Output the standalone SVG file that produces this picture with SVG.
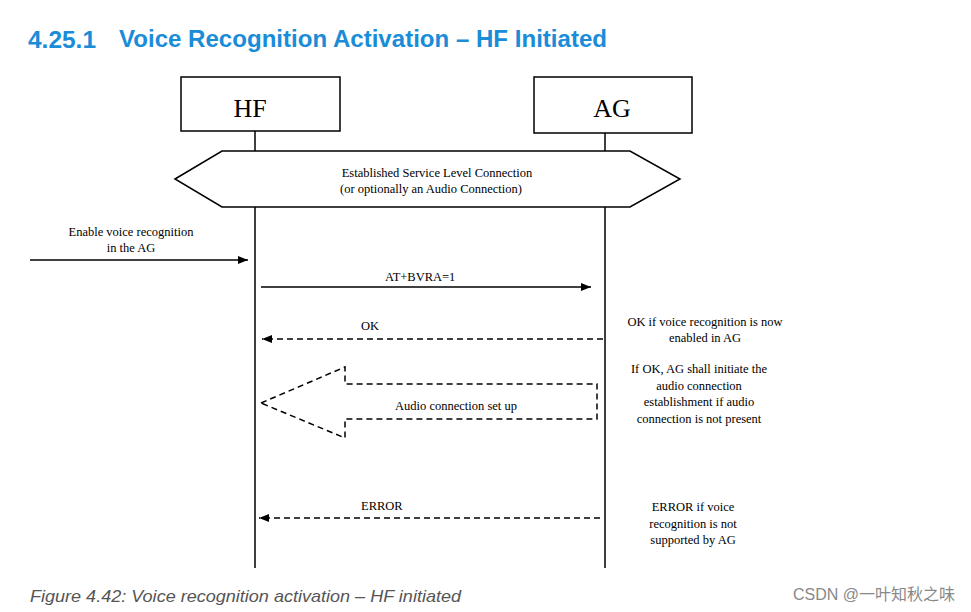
<svg xmlns="http://www.w3.org/2000/svg" width="971" height="612" viewBox="0 0 971 612">
<style>
.t{font-family:"Liberation Serif",serif;font-size:12.5px;fill:#000}
.b{font-family:"Liberation Serif",serif;font-size:26px;fill:#000}
.l{stroke:#000;stroke-width:1.5;fill:none}
.d{stroke:#000;stroke-width:1.5;fill:none;stroke-dasharray:6,4}
.h{font-family:"Liberation Sans",sans-serif;font-weight:bold;font-size:23px;fill:#1a8cd8}
</style>
<defs>
<marker id="a" markerWidth="10" markerHeight="8" refX="10" refY="4" orient="auto" markerUnits="userSpaceOnUse"><path d="M0,0L10,4L0,8z" fill="#000"/></marker>
</defs>
<rect width="971" height="612" fill="#fff"/>
<text x="28" y="48" class="h" textLength="68" lengthAdjust="spacingAndGlyphs">4.25.1</text>
<text x="119" y="47" class="h" textLength="488" lengthAdjust="spacingAndGlyphs">Voice Recognition Activation – HF Initiated</text>
<g id="HF"><rect x="181" y="77" width="159" height="54" class="l"/><text x="250" y="117" class="b" text-anchor="middle">HF</text><line x1="255" y1="131" x2="255" y2="568" class="l"/></g>
<g id="AG"><rect x="534" y="77" width="158" height="56" class="l"/><text x="612" y="117" class="b" text-anchor="middle">AG</text><line x1="605" y1="133" x2="605" y2="568" class="l"/></g>
<g id="slc"><polygon points="175,179 222,151 630,151 680,179 630,207 222,207" fill="#fff" stroke="#000" stroke-width="1.5"/><text x="437" y="177" class="t" text-anchor="middle">Established Service Level Connection</text><text x="431" y="193" class="t" text-anchor="middle">(or optionally an Audio Connection)</text></g>
<g id="connectors">
<line x1="30" y1="260" x2="248" y2="260" class="l" marker-end="url(#a)"/>
<line x1="261" y1="287" x2="591" y2="287" class="l" marker-end="url(#a)"/>
<line x1="603" y1="339" x2="262" y2="339" class="d" marker-end="url(#a)"/>
<line x1="600" y1="518" x2="259" y2="518" class="d" marker-end="url(#a)"/>
<polygon points="261,403 345,367 345,384 597,384 597,419 345,419 345,438" class="d"/>
</g>
<g id="labels">
<text x="131" y="236" class="t" text-anchor="middle">Enable voice recognition</text><text x="131" y="252" class="t" text-anchor="middle">in the AG</text>
<text x="385" y="281" class="t">AT+BVRA=1</text>
<text x="361" y="330" class="t">OK</text>
<text x="456" y="410" class="t" text-anchor="middle">Audio connection set up</text>
<text x="361" y="510" class="t">ERROR</text>
<text x="705" y="326" class="t" text-anchor="middle">OK if voice recognition is now</text><text x="705" y="342" class="t" text-anchor="middle">enabled in AG</text>
<text x="699" y="373" class="t" text-anchor="middle">If OK, AG shall initiate the</text><text x="699" y="390" class="t" text-anchor="middle">audio connection</text><text x="699" y="406" class="t" text-anchor="middle">establishment if audio</text><text x="699" y="423" class="t" text-anchor="middle">connection is not present</text>
<text x="693" y="511" class="t" text-anchor="middle">ERROR if voice</text><text x="693" y="528" class="t" text-anchor="middle">recognition is not</text><text x="693" y="544" class="t" text-anchor="middle">supported by AG</text>
</g>
<text x="30" y="602" font-family="Liberation Sans,sans-serif" font-style="italic" font-size="17" fill="#555" textLength="431" lengthAdjust="spacingAndGlyphs">Figure 4.42: Voice recognition activation – HF initiated</text>
<text x="955" y="600" font-family="Liberation Sans,'Noto Sans CJK SC',sans-serif" font-size="16" fill="#888" text-anchor="end">CSDN @一叶知秋之味</text>
</svg>
